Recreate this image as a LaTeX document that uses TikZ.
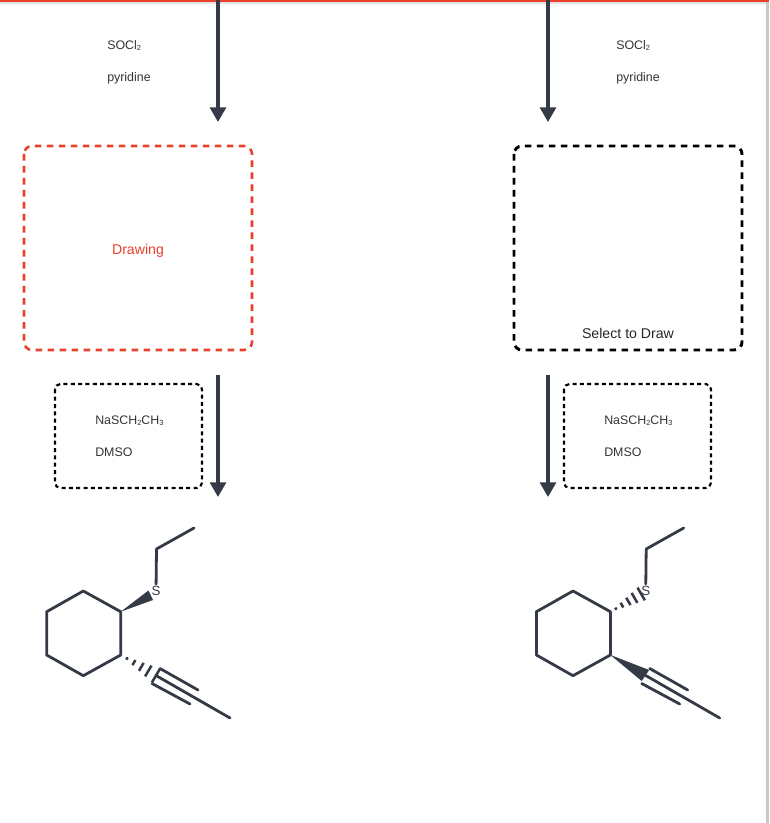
\documentclass[tikz,border=0pt]{standalone}
\usepackage{fontspec}
\setmainfont{Liberation Sans}
\usetikzlibrary{arrows.meta,calc}
\definecolor{bondgray}{HTML}{343B46}
\definecolor{alertred}{HTML}{E8402A}
\tikzset{
	rxnarrow/.style={draw=bondgray,line width=2.3pt,-{Triangle[length=11pt,width=12pt]}},
	bond/.style={draw=bondgray,line width=2.1pt,line cap=round,line join=round},
	wedgefill/.style={fill=bondgray,draw=none},
	reagent/.style={anchor=west,inner sep=0pt,text=black!80,font=\fontsize{9.3}{11}\selectfont},
	boxlabel/.style={inner sep=0pt,font=\fontsize{10.6}{12}\selectfont},
	atomlabel/.style={inner sep=1.5pt,text=bondgray,font=\fontsize{10}{11}\selectfont},
	drawbox/.style={line width=1.9pt,rounded corners=6pt,dash pattern=on 4.9pt off 4.1pt},
	reagentbox/.style={draw=black,line width=1.6pt,rounded corners=4pt,dash pattern=on 3pt off 2.5pt}
}
\def\subsc#1{\raisebox{-0.9pt}{\fontsize{5.6}{6}\selectfont #1}}
% ring, ethyl arm and alkyne shared by both products
\def\productbase#1{
	\coordinate (#1r1) at (83.3, 591);
	\coordinate (#1r2) at (120.7, 611.7);
	\coordinate (#1r3) at (120.7, 655);
	\coordinate (#1r4) at (83.3, 675.7);
	\coordinate (#1r5) at (46.7, 655);
	\coordinate (#1r6) at (46.7, 611.7);
	\draw[bond] (#1r1) -- (#1r2) -- (#1r3) -- (#1r4) -- (#1r5) -- (#1r6) -- cycle;
	\node[atomlabel] (#1sulfur) at (156, 591) {S};
	\coordinate (#1c1) at (156.5, 549);
	\coordinate (#1c2) at (194, 528);
	\draw[bond] (#1sulfur) -- (#1c1) -- (#1c2);
	\coordinate (#1t1) at (156, 675.5);
	\coordinate (#1t2) at (230, 718);
	\draw[bond] (#1t1) -- (#1t2);
	\draw[bond] (160, 668.5) -- (198, 690);
	\draw[bond] (152, 683.5) -- (190, 704);
}
% dashed wedge, strokes grow along the bond
\def\hashbond(#1)(#2)#3{
	\foreach \t in {0.17,0.37,0.58,0.78,1.0}{
		\pgfmathsetmacro{\w}{\t*#3}
		\draw[bond,line width=1.9pt,line cap=butt] ($(#1)!\t!(#2) + ($(#1)!\w pt!90:(#2)$) - (#1)$) -- ($(#1)!\t!(#2) + ($(#1)!\w pt!-90:(#2)$) - (#1)$);
	}
}

\begin{document}
\begin{tikzpicture}[x=0.75pt,y=-0.75pt]
	\useasboundingbox (0, 0) rectangle (769, 823);
	%%%%% FRAME %%%%%
	\fill[black!12] (0, 2) rectangle (769, 4);
	\fill[alertred] (0, 0) rectangle (769, 2.2);
	\fill[black!22] (766, 2) rectangle (769, 823);

	%%%%% LEFT COLUMN %%%%%
	\coordinate (topL) at (218, 0);
	\coordinate (topLend) at (218, 122);
	\draw[rxnarrow] (topL) -- (topLend);
	\node[reagent] (socl) at (107, 45.5) {SOCl\subsc{2}};
	\node[reagent] (pyr) at (107, 78) {pyridine};

	\draw[drawbox,draw=alertred] (24, 146) rectangle (252, 350);
	\node[boxlabel,text=alertred] (drawing) at (138, 250.5) {Drawing};

	\draw[reagentbox] (55, 384) rectangle (202, 488);
	\node[reagent] (thiolate) at (95, 420.5) {NaSCH\subsc{2}CH\subsc{3}};
	\node[reagent] (dmso) at (95, 452.5) {DMSO};
	\coordinate (midL) at (218, 375);
	\coordinate (midLend) at (218, 497);
	\draw[rxnarrow] (midL) -- (midLend);

	\productbase{a}
	\fill[wedgefill] (ar2) -- (148.5, 590.5) -- (153, 600) -- cycle;
	\coordinate (ah) at (121, 655);
	\hashbond(ah)(at1){6pt}

	%%%%% RIGHT COLUMN %%%%%
	\coordinate (topR) at (548, 0);
	\coordinate (topRend) at (548, 122);
	\draw[rxnarrow] (topR) -- (topRend);
	\node[reagent] (soclR) at (616, 45.5) {SOCl\subsc{2}};
	\node[reagent] (pyrR) at (616, 78) {pyridine};

	\draw[drawbox,draw=black,line width=2.2pt] (514, 146) rectangle (742, 350);
	\node[boxlabel,text=black!85] (select) at (628, 333) {Select to Draw};

	\draw[reagentbox] (564, 384) rectangle (711, 488);
	\node[reagent] (thiolateR) at (604, 420.5) {NaSCH\subsc{2}CH\subsc{3}};
	\node[reagent] (dmsoR) at (604, 452.5) {DMSO};
	\coordinate (midR) at (548, 375);
	\coordinate (midRend) at (548, 497);
	\draw[rxnarrow] (midR) -- (midRend);

	\begin{scope}[shift={(489.7, 0)}]
		\productbase{b}
		\fill[wedgefill] (br3) -- (159.5, 670) -- (152, 681) -- cycle;
		\coordinate (bh) at (121, 611.7);
		\coordinate (bhend) at (151.5, 594);
		\hashbond(bh)(bhend){5.5pt}
	\end{scope}
\end{tikzpicture}
\end{document}
